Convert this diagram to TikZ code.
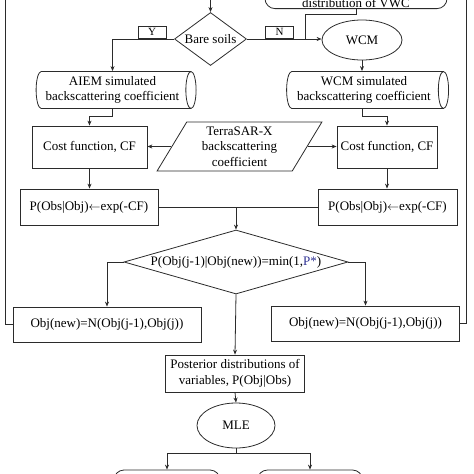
\documentclass[tikz,border=0pt]{standalone}
\usepackage{fontspec}
\setmainfont{Liberation Serif}
\usetikzlibrary{arrows.meta,positioning,shapes.geometric}
\definecolor{edge}{HTML}{2B2B2B}
\definecolor{pstar}{HTML}{2E3192}

\begin{document}
\begin{tikzpicture}[
    x=1pt,y=-1pt,
    font=\fontsize{13}{15.5}\selectfont,
    blk/.style={rectangle,draw=edge,line width=0.8pt,inner sep=2pt,align=center},
    rblk/.style={blk,rounded corners=10pt},
    dec/.style={diamond,draw=edge,line width=0.8pt,inner sep=0pt},
    oval/.style={ellipse,draw=edge,line width=0.8pt,inner sep=0pt},
    store/.style={cylinder,draw=edge,line width=0.8pt,align=center,aspect=0.35,inner sep=1pt},
    io/.style={trapezium,trapezium left angle=62,trapezium right angle=118,trapezium stretches=true,draw=edge,line width=0.8pt,align=center,inner sep=0pt},
    tag/.style={rectangle,draw=edge,line width=0.8pt,minimum width=28pt,minimum height=12pt,inner sep=0pt,font=\fontsize{11}{12}\selectfont},
    arr/.style={-{Stealth[length=5pt,width=4pt]},draw=edge,line width=0.8pt},
    wire/.style={draw=edge,line width=0.8pt}
]
\useasboundingbox (0,0) rectangle (474,474);
\clip (0,0) rectangle (474,474);

\node[rblk,anchor=south,inner ysep=0.5pt,minimum width=182pt] (vwc) at (356,9) {\strut\\distribution of VWC};
\node[dec,minimum width=72pt,minimum height=53pt,aspect=1.36] (soils) at (210.5,39) {Bare soils};
\node[tag] (ytag) at (152,32) {Y};
\node[tag] (ntag) at (279.5,32) {N};
\node[oval,minimum width=80pt,minimum height=40pt] (wcm) at (362,40) {WCM};

\node[store,minimum height=160pt,minimum width=37pt] (aiem) at (112.5,90) {AIEM simulated\\backscattering coefficient};
\node[store,minimum height=162pt,minimum width=37pt] (wsim) at (364,90) {WCM simulated\\backscattering coefficient};

\node[blk,minimum width=115pt,minimum height=42pt] (cf1) at (89.5,147) {Cost function, CF};
\node[io,minimum width=165pt,minimum height=49pt] (tsx) at (239.5,146.5) {TerraSAR-X\\backscattering\\coefficient};
\node[blk,minimum width=100pt,minimum height=42pt] (cf2) at (387,147) {Cost function, CF};

\node[blk,minimum width=138pt,minimum height=36pt] (p1) at (89,207) {P(Obs|Obj)$\leftarrow$exp(-CF)};
\node[blk,minimum width=139pt,minimum height=36pt] (p2) at (387.5,207) {P(Obs|Obj)$\leftarrow$exp(-CF)};

\node[dec,minimum width=224pt,minimum height=64pt,aspect=3.5] (acc) at (236,262) {P(Obj(j-1)|Obj(new))=min(1,\textcolor{pstar}{P*})};

\node[blk,minimum width=188pt,minimum height=35pt] (o1) at (107,324.5) {Obj(new)=N(Obj(j-1),Obj(j))};
\node[blk,minimum width=188pt,minimum height=35pt] (o2) at (365.5,323.5) {Obj(new)=N(Obj(j-1),Obj(j))};

\node[blk,minimum width=139pt,minimum height=37pt] (post) at (235,373.5) {Posterior distributions of\\variables, P(Obj|Obs)};
\node[oval,minimum width=78pt,minimum height=45pt] (mle) at (236,425.5) {MLE};
\node[rblk,minimum width=106pt,minimum height=40pt] (out1) at (167,490) {};
\node[rblk,minimum width=105pt,minimum height=40pt] (out2) at (310,490) {};

\coordinate (cin) at (210.5,-20);
\coordinate (join) at (305,39);
\coordinate (lup) at (5,-20);
\coordinate (rup) at (466,-20);

\draw[arr] (cin) -- (soils.north);
\draw[arr] (soils.east) -- (soils.east -| wcm.west);
\draw[wire] (vwc.south) -- ++(0,5) -| (join);
\draw[arr] (soils.west) -| (aiem.north);
\draw[arr] (wcm.south) -- (wcm.south |- wsim.north);
\draw[arr] (aiem.south) -- ++(0,7) -| (cf1.north);
\draw[arr] (wcm.south |- wsim.south) -- ++(0,7) -| (cf2.north);
\draw[arr] (tsx.left side) -- (tsx.left side -| cf1.east);
\draw[arr] (tsx.right side) -- (tsx.right side -| cf2.west);
\draw[arr] (cf1.south) -- (cf1.south |- p1.north);
\draw[arr] (cf2.south) -- (cf2.south |- p2.north);
\draw[wire] (p1.east) -- (p1.east -| p2.west);
\draw[arr] (p1.east -| acc.north) -- (acc.north);
\draw[arr] (acc.west) -| (o1.north);
\draw[arr] (acc.east) -| (o2.north);
\draw[wire] (o1.west) -| (lup);
\draw[wire] (o2.east) -| (rup);
\draw[arr] (acc.south) -- (post.north);
\draw[arr] (post.south) -- (mle.north);
\draw[wire] (mle.south) -- ++(0,5) coordinate (split);
\draw[arr] (split) -| (out1.north);
\draw[arr] (split) -| (out2.north);
\end{tikzpicture}
\end{document}
